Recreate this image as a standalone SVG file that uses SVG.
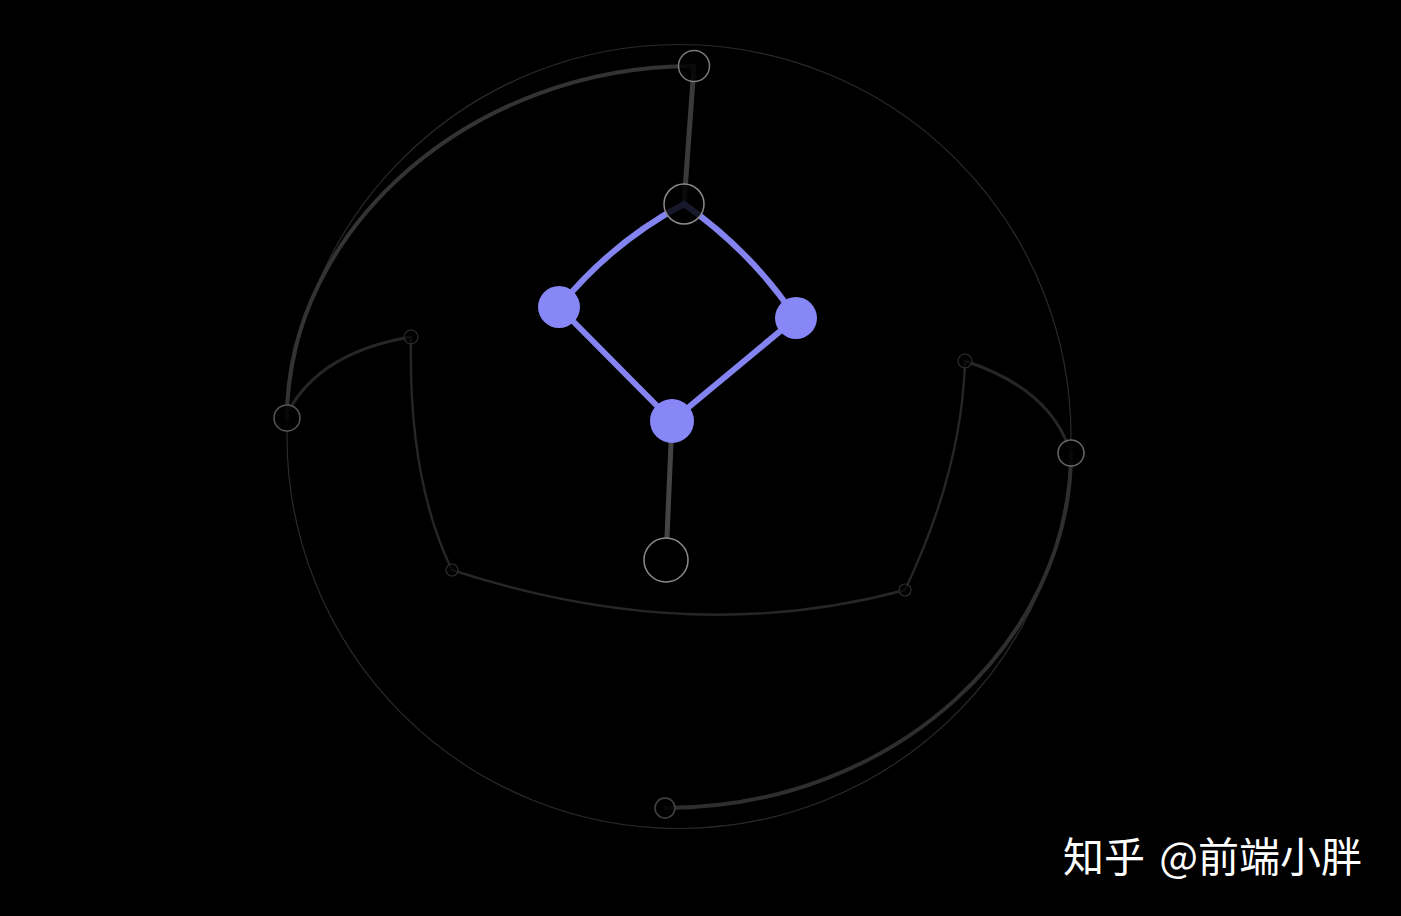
<svg xmlns="http://www.w3.org/2000/svg" width="1401" height="916" viewBox="0 0 1401 916">
<style>
.thick{fill:none;stroke:#3a3a3a;stroke-width:5;stroke-linecap:round}
.arc{fill:none;stroke:#333;stroke-width:4;stroke-linecap:round}
.thin{fill:none;stroke:#262626;stroke-width:2.4;stroke-linecap:round}
.blue{fill:none;stroke:#8484f0;stroke-width:6;stroke-linecap:round}
.bnode{fill:#8787f7}
.gnode{fill:#000;fill-opacity:0.82;stroke:#7a7a7a;stroke-width:1.5}
.snode{fill:#000;fill-opacity:0.6;stroke:#2e2e2e;stroke-width:1.2}
.label{font-family:"Noto Sans CJK SC","Noto Sans",sans-serif;font-size:41px;fill:#ffffff}
</style>
<rect width="1401" height="916" fill="#000"/>
<circle cx="679" cy="436.5" r="392" fill="none" stroke="#2a2a2a" stroke-width="1.2"/>
<g id="connectors">
<path class="arc" d="M694,66 C470,66 287,230 287,418"/>
<path class="arc" d="M1071,453 C1071,640 895,808 665,808" style="stroke:#2e2e2e"/>
<path class="thin" d="M288,412 Q320,352 411,337" style="stroke-width:3"/>
<path class="thin" d="M411,337 Q408,480 452,570"/>
<path class="thin" d="M452,570 Q690,648 905,590"/>
<path class="thin" d="M905,590 Q962,470 965,361"/>
<path class="thin" d="M965,361 Q1048,388 1069,448" style="stroke-width:3"/>
<path class="thick" d="M694,66 L684,204"/>
<path class="thick" d="M672,421 L666,560" style="stroke:#444"/>
<path class="blue" d="M684,204 Q612,242 559,307"/>
<path class="blue" d="M684,204 Q752,252 796,318"/>
<path class="blue" d="M559,307 L672,421"/>
<path class="blue" d="M796,318 L672,421"/>
</g>
<g id="n-top"><circle class="gnode" cx="694" cy="66" r="15.5"/></g>
<g id="n-hub"><circle class="gnode" cx="684" cy="204" r="20" style="stroke:#8a8a8a"/></g>
<g id="n-left-blue"><circle class="bnode" cx="559" cy="307" r="21"/></g>
<g id="n-right-blue"><circle class="bnode" cx="796" cy="318" r="21"/></g>
<g id="n-bottom-blue"><circle class="bnode" cx="672" cy="421" r="22"/></g>
<g id="n-bottom-inner"><circle class="gnode" cx="666" cy="560" r="22" style="stroke:#8a8a8a;fill-opacity:1"/></g>
<g id="n-left"><circle class="gnode" cx="287" cy="418" r="13" style="stroke:#555"/></g>
<g id="n-right"><circle class="gnode" cx="1071" cy="453" r="13" style="stroke:#666"/></g>
<g id="n-bottom"><circle class="gnode" cx="665" cy="808" r="10" style="stroke:#444"/></g>
<g id="s1"><circle class="snode" cx="411" cy="337" r="7"/></g>
<g id="s2"><circle class="snode" cx="965" cy="361" r="7"/></g>
<g id="s3"><circle class="snode" cx="452" cy="570" r="6"/></g>
<g id="s4"><circle class="snode" cx="905" cy="590" r="6"/></g>
<text class="label" x="1063" y="872">知乎</text>
<text class="label" x="1362" y="872" text-anchor="end">@前端小胖</text>
</svg>
